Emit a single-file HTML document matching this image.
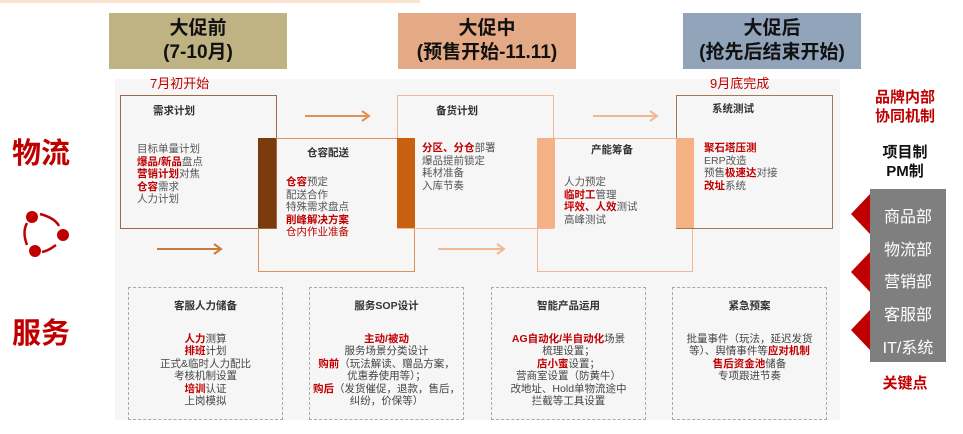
<!DOCTYPE html>
<html><head><meta charset="utf-8"><style>
body{margin:0;width:963px;height:434px;background:#fff;position:relative;overflow:hidden;font-family:"Liberation Sans","Noto Sans CJK SC",sans-serif}
.a{position:absolute}
.hd{position:absolute;top:13px;height:56px;width:178px;text-align:center;font-weight:bold;font-size:19px;line-height:24px;color:#111;padding-top:4px;box-sizing:border-box}
.box{position:absolute;box-sizing:border-box;background:transparent}
.t{position:absolute;font-size:10.5px;line-height:12.5px;color:#555}
.r{color:#c00000;font-weight:bold}
.ti{position:absolute;font-size:10.5px;font-weight:bold;color:#333}
.bar{position:absolute;width:18px;top:138px;height:90px}
.db{position:absolute;top:287px;height:133px;width:155px;border:1px dashed #aaa;box-sizing:border-box;text-align:center;font-size:10.5px;line-height:12.5px;color:#444}
.db b.h{display:block;margin-top:12px;margin-bottom:20px;color:#333}
.dep{position:absolute;left:870px;width:76px;color:#fff;font-size:16px;text-align:center}
.tri{position:absolute;left:851px;width:0;height:0;border-top:20px solid transparent;border-bottom:20px solid transparent;border-right:19px solid #c00000}
</style></head><body>
<div class="a" style="left:0;top:0;width:420px;height:3px;background:#fbe3cf"></div>
<div class="hd" style="left:109px;background:#bfb283">大促前<br>(7-10月)</div>
<div class="hd" style="left:398px;background:#e4a985">大促中<br>(预售开始-11.11)</div>
<div class="hd" style="left:683px;background:#91a4b9">大促后<br>(抢先后结束开始)</div>
<div class="a" style="left:115px;top:79px;width:725px;height:341px;background:#f6f6f6"></div>
<div class="a" style="left:150px;top:73px;color:#c00000;font-size:13px">7月初开始</div>
<div class="a" style="left:710px;top:73px;color:#c00000;font-size:13px">9月底完成</div>

<div class="box" style="left:120px;top:95px;width:157px;height:134px;border:1.5px solid #9c6a4a"></div>
<div class="box" style="left:258px;top:138px;width:157px;height:134px;border:1.5px solid #e0915a"></div>
<div class="box" style="left:397px;top:95px;width:157px;height:134px;border:1.5px solid #f2b894"></div>
<div class="box" style="left:537px;top:138px;width:156px;height:134px;border:1.5px solid #f2b894"></div>
<div class="box" style="left:676px;top:95px;width:157px;height:134px;border:1.5px solid #a0785a"></div>
<div class="bar" style="left:258px;background:#7b3b0c"></div>
<div class="bar" style="left:397px;background:#c8600f"></div>
<div class="bar" style="left:537px;background:#f4b184"></div>
<div class="bar" style="left:676px;background:#f4b184"></div>

<div class="ti" style="left:153px;top:103px">需求计划</div>
<div class="t" style="left:137px;top:143px">目标单量计划<br><span class="r">爆品/新品</span>盘点<br><span class="r">营销计划</span>对焦<br><span class="r">仓容</span>需求<br>人力计划</div>
<div class="ti" style="left:307px;top:145px">仓容配送</div>
<div class="t" style="left:286px;top:176px"><span class="r">仓容</span>预定<br>配送合作<br>特殊需求盘点<br><span class="r">削峰解决方案</span><br><span style="color:#c00000">仓内作业准备</span></div>
<div class="ti" style="left:436px;top:103px">备货计划</div>
<div class="t" style="left:422px;top:142px"><span class="r">分区、分仓</span>部署<br>爆品提前锁定<br>耗材准备<br>入库节奏</div>
<div class="ti" style="left:591px;top:142px">产能筹备</div>
<div class="t" style="left:564px;top:176px">人力预定<br><span class="r">临时工</span>管理<br><span class="r">坪效、人效</span>测试<br>高峰测试</div>
<div class="ti" style="left:712px;top:101px">系统测试</div>
<div class="t" style="left:704px;top:142px"><span class="r">聚石塔压测</span><br>ERP改造<br>预售<span class="r">极速达</span>对接<br><span class="r">改址</span>系统</div>

<svg class="a" style="left:0;top:0" width="963" height="434">
<g stroke-width="2" fill="none">
<path d="M305 116H368M362 111L369 116L362 121" stroke="#e09058"/>
<path d="M157 249H220M214 244L221 249L214 254" stroke="#c87a3a"/>
<path d="M438 249H503M497 244L504 249L497 254" stroke="#f2b894"/>
<path d="M593 116H656M650 111L657 116L650 121" stroke="#f2b894"/>
</g>
<g fill="#c00000"><circle cx="32" cy="217" r="6"/><circle cx="63" cy="235" r="6"/><circle cx="35" cy="251" r="6"/></g>
<path d="M40 214Q55 218 59 226M56 245Q48 251 42 252M27 245Q22 232 27 223" stroke="#c00000" stroke-width="2.5" fill="none"/>
</svg>
<div class="a" style="left:12px;top:130px;color:#c00000;font-size:29px;font-weight:bold">物流</div>
<div class="a" style="left:12px;top:310px;color:#c00000;font-size:29px;font-weight:bold">服务</div>

<div class="db" style="left:128px"><b class="h">客服人力储备</b><span class="r">人力</span>测算<br><span class="r">排班</span>计划<br>正式&amp;临时人力配比<br>考核机制设置<br><span class="r">培训</span>认证<br>上岗模拟</div>
<div class="db" style="left:309px"><b class="h">服务SOP设计</b><span class="r">主动/被动</span><br>服务场景分类设计<br><span class="r">购前</span>（玩法解读、赠品方案，<br>优惠券使用等）；<br><span class="r">购后</span>（发货催促，退款，售后，<br>纠纷，价保等）</div>
<div class="db" style="left:491px"><b class="h">智能产品运用</b><span class="r">AG自动化/半自动化</span>场景<br>梳理设置；<br><span class="r">店小蜜</span>设置；<br>营商室设置（防黄牛）<br>改地址、Hold单物流途中<br>拦截等工具设置</div>
<div class="db" style="left:672px"><b class="h">紧急预案</b>批量事件（玩法，延迟发货<br>等）、舆情事件等<span class="r">应对机制</span><br><span class="r">售后资金池</span>储备<br>专项跟进节奏</div>

<div class="a" style="left:850px;top:88px;width:110px;text-align:center;color:#c00000;font-weight:bold;font-size:15px;line-height:19px">品牌内部<br>协同机制</div>
<div class="a" style="left:850px;top:143px;width:110px;text-align:center;color:#111;font-weight:bold;font-size:15px;line-height:19px">项目制<br>PM制</div>
<div class="a" style="left:870px;top:189px;width:76px;height:173px;background:#7f7f7f"></div>
<div class="dep" style="top:203px">商品部</div>
<div class="dep" style="top:236px">物流部</div>
<div class="dep" style="top:268px">营销部</div>
<div class="dep" style="top:301px">客服部</div>
<div class="dep" style="top:334px">IT/系统</div>
<div class="tri" style="top:194px"></div>
<div class="tri" style="top:252px"></div>
<div class="tri" style="top:310px"></div>
<div class="a" style="left:850px;top:372px;width:110px;text-align:center;color:#c00000;font-weight:bold;font-size:15px">关键点</div>
</body></html>
